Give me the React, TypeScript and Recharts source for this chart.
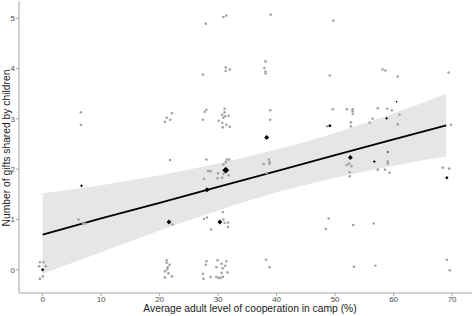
import {
  ComposedChart,
  Area,
  Line,
  Scatter,
  XAxis,
  YAxis,
  Label,
} from "recharts";

// camp cooperation (%) vs gifts shared: jittered child values, camp means, linear fit
const jitterX = [
  -0.46, 0.17, -0.58, 0.56, -0.46, 0.05,
  6.54, 6.54, 6.14, 6.93, 7.3,
  22.1, 21.2, 21.8, 20.9, 21.8, 22.2, 21.2, 21.2, 21.7, 21.4, 21.3, 20.9, 21.5, 22.1, 20.9,
  27.9, 27.4, 28.0, 27.7, 27.4, 28.0, 28.3, 28.7, 27.6, 27.6, 28.1, 28.8, 28.0, 27.9, 27.4, 28.7, 27.5,
  30.9, 31.4, 31.3, 32.0, 31.3, 31.1, 31.1, 30.7, 31.2, 31.8, 30.9, 30.1, 30.7, 31.4, 32.0, 30.8,
  31.5, 31.9, 31.3, 30.9, 30.0, 30.9, 31.8, 30.7, 29.9,
  30.8, 30.9, 31.1, 31.7, 31.7,
  29.9, 30.6, 31.4, 31.2, 29.7, 30.8, 31.6, 30.6, 29.7, 30.1, 30.4, 30.8,
  39.0, 38.1, 37.9, 38.1, 38.1, 38.9, 38.9, 38.7, 38.8, 38.8, 37.8, 38.3, 38.2, 38.8,
  49.7, 49.1, 49.6, 48.6, 48.9, 48.4,
  52.0, 53.0, 53.0, 53.0, 52.7, 52.7, 52.0, 52.4, 52.8, 52.5, 52.5, 53.1, 53.2,
  58.1, 58.6, 60.7, 57.3, 58.9, 59.7, 61.0, 56.4, 55.9, 60.7, 57.3, 58.5, 59.0, 59.0, 59.3, 56.6, 56.9,
  69.4, 69.8, 68.4, 69.5, 69.1, 69.6,
];
const jitterY = [
  0.15, 0.15, 0.07, 0.07, -0.18, -0.13,
  3.13, 2.88, 1.0, 0.92, 0.92,
  3.11, 3.02, 2.98, 2.94, 2.18, 0.9, 0.19, 0.14, 0.1, 0.05, 0.01, -0.03, -0.07, -0.13, -0.15,
  4.89, 3.88, 3.18, 3.14, 2.98, 2.19, 1.96, 1.96, 1.81, 1.01, 1.04, 0.8, 0.17, 0.1, -0.08, -0.14, -0.18,
  5.02, 5.05, 4.02, 3.98, 3.95, 3.2, 3.13, 3.08, 3.05, 3.06, 3.02, 2.96, 2.92, 2.88, 2.84, 2.83,
  2.19, 2.19, 2.14, 2.09, 1.92, 1.91, 1.88, 1.83, 1.82,
  1.15, 1.0, 0.93, 0.94, 0.85,
  0.19, 0.12, 0.17, 0.08, 0.05, 0.03, -0.05, -0.06, -0.14, -0.16, -0.16, -0.14,
  5.07, 4.14, 4.01, 3.94, 3.9, 3.17, 2.98, 2.19, 2.14, 2.1, 2.1, 1.92, 0.2, 0.05,
  4.95, 3.86, 3.19, 2.85, 1.02, 0.81,
  3.19, 3.19, 3.15, 3.1, 2.93, 2.85, 2.08, 2.11, 2.06, 1.94, 1.86, 0.89, 0.06,
  3.98, 3.96, 3.84, 3.21, 3.2, 3.17, 3.08, 3.0, 2.92, 2.89, 1.99, 1.99, 2.15, 2.11, 1.93, 0.92, 0.08,
  3.92, 2.88, 2.03, 2.01, 0.2, -0.01,
];

// camp means, marker size follows number of children
const meanX = [0, 6.65, 21.6, 28.1, 31.3, 30.3, 38.3, 52.6, 56.7, 58.8, 49.1, 60.5, 59.0, 69.1];
const meanY = [0, 1.67, 0.95, 1.59, 1.98, 0.95, 2.63, 2.23, 2.15, 3.01, 2.86, 3.34, 2.34, 1.83];
const meanN = [3, 2, 6, 6, 12, 6, 6, 6, 2, 2, 3, 1, 1, 3];

// fitted line with 95% band
const fitX = [0, 10, 20, 30, 40, 50, 60, 69];
const fitY = [0.7, 1.02, 1.33, 1.65, 1.96, 2.28, 2.59, 2.87];
const bandLow = [-0.08, 0.35, 0.78, 1.18, 1.54, 1.83, 2.07, 2.25];
const bandHigh = [1.52, 1.68, 1.88, 2.11, 2.39, 2.72, 3.11, 3.5];

const xTicks = [0, 10, 20, 30, 40, 50, 60, 70];
const yTicks = [0, 1, 2, 3, 4, 5];

const fitData = fitX.map((x, i) => ({ x, fit: fitY[i], band: [bandLow[i], bandHigh[i]] }));
const jitterData = jitterX.map((x, i) => ({ x, y: jitterY[i] }));
const meanData = meanX.map((x, i) => ({ x, y: meanY[i], n: meanN[i] }));

const font = '"Liberation Sans", Arial, sans-serif';
const axisGrey = "#a6a6a6";
const tickStyle = { fill: "#4d4d4d", fontSize: 8, fontFamily: font };

const GreyDot = (props: any) => (
  <circle cx={props.cx} cy={props.cy} r={1.3} fill="#a3a3a3" />
);

const Diamond = (props: any) => {
  const { cx, cy, payload } = props;
  const r = Math.sqrt(payload.n);
  return (
    <polygon
      points={`${cx},${cy - r} ${cx + r},${cy} ${cx},${cy + r} ${cx - r},${cy}`}
      fill="#000"
    />
  );
};

const YTitle = (props: any) => {
  const { viewBox } = props;
  const x = viewBox.x + 10;
  const y = 148;
  return (
    <text
      x={x}
      y={y}
      transform={`rotate(-90 ${x} ${y})`}
      textAnchor="middle"
      fill="#1a1a1a"
      fontSize={10.3}
      fontFamily={font}
    >
      Number of gifts shared by children
    </text>
  );
};

const XTitle = () => (
  <text x={250} y={312} textAnchor="middle" fill="#1a1a1a" fontSize={10.3} fontFamily={font}>
    Average adult level of cooperation in camp (%)
  </text>
);

export default function App() {
  return (
    <div style={{ position: "absolute", left: 0, top: 0, background: "#fff" }}>
      <ComposedChart
        width={474}
        height={316}
        data={fitData}
        margin={{ top: 1, right: 2, bottom: 0, left: 0 }}
      >
        <XAxis
          dataKey="x"
          type="number"
          domain={[-4.04, 73.4]}
          ticks={xTicks}
          height={23}
          tick={tickStyle}
          tickSize={3}
          tickMargin={0}
          tickLine={{ stroke: axisGrey }}
          axisLine={{ stroke: axisGrey }}
          allowDataOverflow
        >
          <Label content={<XTitle />} />
        </XAxis>
        <YAxis
          type="number"
          domain={[-0.46, 5.34]}
          ticks={yTicks}
          width={19}
          tick={tickStyle}
          tickSize={3}
          tickMargin={1}
          tickLine={{ stroke: axisGrey }}
          axisLine={{ stroke: axisGrey }}
          allowDataOverflow
        >
          <Label content={<YTitle />} />
        </YAxis>
        <XAxis
          xAxisId="top"
          orientation="top"
          type="number"
          domain={[0, 1]}
          height={0}
          tick={false}
          tickLine={false}
          axisLine={{ stroke: "#c4c4c4", strokeWidth: 2 }}
        />
        <YAxis
          yAxisId="right"
          orientation="right"
          type="number"
          domain={[0, 1]}
          width={0}
          tick={false}
          tickLine={false}
          axisLine={{ stroke: "#c4c4c4", strokeWidth: 2 }}
        />
        <Area
          dataKey="band"
          type="monotone"
          stroke="none"
          fill="#e6e6e6"
          fillOpacity={1}
          isAnimationActive={false}
        />
        <Scatter data={jitterData} dataKey="y" shape={<GreyDot />} isAnimationActive={false} />
        <Line
          dataKey="fit"
          type="linear"
          stroke="#000"
          strokeWidth={1.8}
          dot={false}
          isAnimationActive={false}
        />
        <Scatter data={meanData} dataKey="y" shape={<Diamond />} isAnimationActive={false} />
      </ComposedChart>
    </div>
  );
}
